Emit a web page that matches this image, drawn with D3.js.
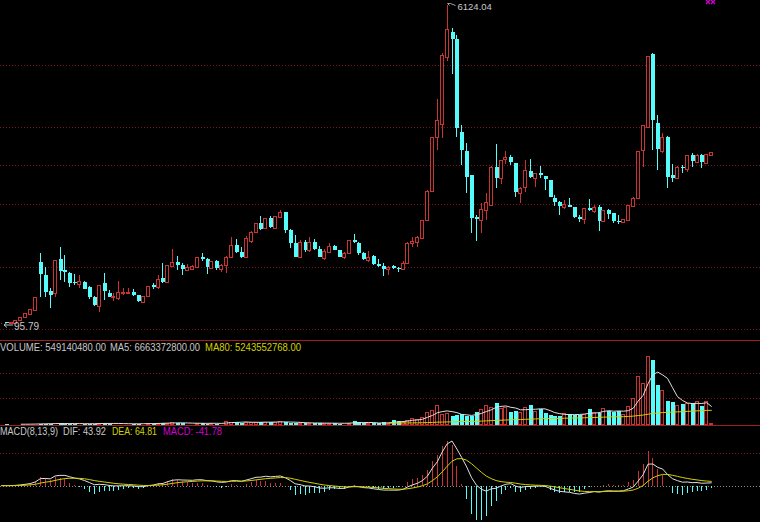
<!DOCTYPE html>
<html><head><meta charset="utf-8">
<script src="https://cdn.jsdelivr.net/npm/d3@7"></script>
<style>
html,body{margin:0;padding:0;background:#000;overflow:hidden}
svg{display:block}
text{font-family:"Liberation Sans",Arial,sans-serif}
</style></head><body>
<svg id="c" width="760" height="522"></svg>
<script>
// ---------------- data ----------------
const open = [96,116,104,112,161,215,280,360,1252,1012,709,666,1314,1106,1055,885,841,885,779,590,426,866,677,596,582,666,678,696,634,505,615,822,779,949,885,1187,1257,1200,1106,1125,1168,1346,1314,1150,1276,1119,1200,1346,1578,1452,1346,1660,1830,2000,1894,2083,1894,2113,2196,1862,1611,1346,1641,1484,1641,1503,1327,1452,1565,1478,1346,1433,1673,1622,1433,1295,1371,1219,1182,1119,1182,1138,1125,1233,1622,1629,1717,2051,2605,3614,3865,5137,5610,5466,3720,3361,2902,2113,2051,2240,2335,3047,2839,3204,3247,3123,2556,2680,2977,2839,2945,2883,2807,2472,2397,2291,2340,2291,2113,2064,2278,2227,2302,2038,2240,2177,2042,2007,2051,2316,2461,3374,3803,5183,3890,3361,3625,2902,2839,3053,3009,3280,3153,3280,3134,3280];
const high = [114,126,130,165,228,292,368,606,1422,1157,760,1300,1546,1390,1074,1030,1006,898,804,615,822,1044,728,666,898,760,760,747,640,620,810,866,1006,1244,1200,1497,1371,1233,1219,1206,1350,1422,1327,1280,1295,1214,1371,1735,1686,1535,1749,1835,1995,2127,2090,2127,2130,2240,2200,1875,1768,1673,1673,1735,1686,1560,1497,1622,1572,1484,1452,1680,1781,1641,1452,1465,1384,1308,1244,1182,1200,1157,1282,1628,1735,1749,2060,2612,3625,4338,5207,6124.04,5674,5548,3847,3506,2910,2146,2378,2561,3065,3482,3190,3355,3280,3130,2670,3185,3204,2940,3077,2890,2815,2524,2416,2429,2461,2295,2146,2284,2442,2335,2335,2245,2253,2185,2146,2070,2340,2491,3360,3850,5160,5213,4036,3690,3640,3109,3070,3090,3285,3312,3290,3298,3305,3340];
const low = [95.79,100,102,110,158,212,276,352,601,601,382,601,917,885,779,822,760,741,552,426,318,539,590,520,539,634,666,615,507,500,610,741,741,855,880,1168,1106,1012,1093,1106,1160,1282,1030,1145,1106,1074,1055,1327,1422,1327,1327,1611,1825,1862,1890,1894,1890,2102,1800,1516,1352,1327,1452,1452,1484,1346,1295,1433,1478,1350,1308,1428,1622,1390,1295,1263,1206,1168,993,1012,1125,1074,1119,1228,1535,1546,1710,2045,2600,3374,3601,5062,4810,3625,3090,2561,1800,1660,1805,2051,2330,2650,2726,3104,3090,2491,2367,2586,2839,2680,2839,2618,2480,2316,2146,2253,2291,2083,2008,1975,2227,2177,1849,2030,2064,1989,1975,2000,2045,2291,2455,3058,3790,3374,2996,3312,2650,2775,2830,2945,2958,3058,3145,3028,3125,3275];
const close = [112,104,124,161,223,288,363,601,1030,696,634,1295,1093,1074,866,855,898,747,590,445,817,715,601,609,685,690,690,634,520,615,804,779,942,885,1195,1252,1200,1125,1168,1182,1346,1308,1168,1276,1138,1200,1357,1573,1452,1346,1705,1830,1989,1881,2083,1913,2127,2196,1862,1622,1357,1641,1484,1641,1509,1357,1465,1565,1484,1357,1427,1673,1635,1433,1314,1357,1219,1182,1131,1168,1138,1119,1233,1622,1660,1724,2051,2605,3620,3941,5170,5655,5466,3784,3374,2869,2083,2070,2259,2397,3058,2850,3185,3247,3141,2586,2661,2996,2869,2934,2902,2820,2491,2397,2316,2353,2302,2102,2076,2272,2240,2302,2038,2240,2164,2038,2023,2064,2335,2461,3355,3847,5151,3941,3387,3625,2869,2839,3058,3034,3280,3166,3280,3153,3298,3330];
// volume in units of 1e8 shares
const volume = [0.1,0.1,0.2,0.3,0.4,0.6,1,2,
  3,3,2,3,4,3,2,2,2,3,2,2,5,
  4,3,2,2,2,2,2,2,3,4,3,4,5,6,7,5,4,3,3,5,4,3,4,3,3,
  12,10,8,6,8,
  7,9,8,9,7,10,11,8,6,5,6,5,5,4,4,4,5,4,3,3,6,12,7,5,4,5,4,
  7.5,6.4,15,12.4,9.8,17.3,22.6,18.9,27.5,45,53,73,
  40,41,31,35,38,32.5,31,45,58,73,
  64,79,63,66,48,50,45,66,72,50,
  58,44,35,32.5,31,44,40,35,35,38,
  58,45,43,60,50,48,50,39,69,98,
  183,155,257,241,146,129,89,85,73,75,
  79,79,89,70,89,5.4914048];
const volumeHeader = ["VOLUME: 549140480.00", "MA5: 6663372800.00", "MA80: 5243552768.00"];
const macdHeader = ["MACD(8,13,9)", "DIF: 43.92", "DEA: 64.81", "MACD: -41.78"];
const extremeLabels = ["6124.04", "95.79"];
const maPeriods = [5, 80];
const macdParams = [8, 13, 9];

// ---------------- layout / style ----------------
const C = {
  up: "#c83434", down: "#54fcfc", grid: "#7a1414", border: "#a01e1e",
  text: "#c8c8c8", yellow: "#d2d200", magenta: "#d200d2", white: "#e0e0e0", zero: "#8a8a8a"
};
const L = {
  priceTop: 4.5, priceBottom: 323.5, priceGrid: [65, 127, 165, 204, 267, 329], priceSep: 340,
  volTop: 356, volBottom: 424.3, volGrid: [372.7, 398.3], volSep: 425,
  macdTop: 441, macdBottom: 520, macdGrid: [453.3],
  xFirst: 1.7, xLast: 712.2
};

const svg = d3.select("#c");
svg.append("rect").attr("width", 760).attr("height", 522).attr("fill", "#000");

const n = close.length;
const x = d3.scaleLinear().domain([0, n - 1]).range([L.xFirst, L.xLast]);
const yP = d3.scaleLinear().domain([d3.min(low), d3.max(high)]).range([L.priceBottom, L.priceTop]);
const yV = d3.scaleLinear().domain([0, d3.max(volume)]).range([L.volBottom, L.volTop]);

function ma(arr, k) {
  return arr.map((v, i) => i < k - 1 ? null : d3.mean(arr.slice(i - k + 1, i + 1)));
}
function ema(arr, k) {
  const a = 2 / (k + 1); const out = [];
  arr.forEach((v, i) => out.push(i === 0 ? v : a * v + (1 - a) * out[i - 1]));
  return out;
}
const e1 = ema(close, macdParams[0]), e2 = ema(close, macdParams[1]);
const dif = e1.map((v, i) => v - e2[i]);
const dea = ema(dif, macdParams[2]);
const hist = dif.map((v, i) => 2 * (v - dea[i]));
const allM = dif.concat(dea, hist);
const yM = d3.scaleLinear().domain([d3.min(allM), d3.max(allM)]).range([L.macdBottom, L.macdTop]);

const px = i => Math.round(x(i));

// ---------------- grid and borders ----------------
const g0 = svg.append("g").attr("shape-rendering", "crispEdges");
L.priceGrid.concat(L.volGrid, L.macdGrid).forEach(y => {
  g0.append("line").attr("x1", 0).attr("x2", 760).attr("y1", Math.round(y) + 0.5).attr("y2", Math.round(y) + 0.5)
    .attr("stroke", C.grid).attr("stroke-dasharray", "1,2");
});
[L.priceSep, L.volSep].forEach(y => {
  g0.append("line").attr("x1", 0).attr("x2", 760).attr("y1", y + 0.5).attr("y2", y + 0.5).attr("stroke", C.border);
});
g0.append("line").attr("x1", 0).attr("x2", 760).attr("y1", Math.round(yM(0)) + 0.5).attr("y2", Math.round(yM(0)) + 0.5)
  .attr("stroke", C.zero).attr("stroke-dasharray", "1,2");

// ---------------- candles ----------------
const gc = svg.append("g").attr("shape-rendering", "crispEdges");
d3.range(n).forEach(i => {
  const cx = px(i), up = close[i] >= open[i];
  const yo = yP(open[i]), yc = yP(close[i]), yh = yP(high[i]), yl = yP(low[i]);
  const top = Math.min(yo, yc), bot = Math.max(yo, yc);
  const col = up ? C.up : C.down;
  if (up) {
    gc.append("line").attr("x1", cx - 0.5).attr("x2", cx - 0.5).attr("y1", yh).attr("y2", top).attr("stroke", col);
    gc.append("line").attr("x1", cx - 0.5).attr("x2", cx - 0.5).attr("y1", bot).attr("y2", yl).attr("stroke", col);
    gc.append("rect").attr("x", cx - 2.5).attr("y", Math.round(top) + 0.5).attr("width", 3)
      .attr("height", Math.max(0, Math.round(bot) - Math.round(top))).attr("fill", "#000").attr("stroke", col);
  } else {
    gc.append("line").attr("x1", cx - 0.5).attr("x2", cx - 0.5).attr("y1", yh).attr("y2", yl).attr("stroke", col);
    gc.append("rect").attr("x", cx - 2.5).attr("y", Math.round(top)).attr("width", 4)
      .attr("height", Math.max(1, Math.round(bot) - Math.round(top))).attr("fill", col);
  }
});

// extreme labels
const iMax = d3.maxIndex(high), iMin = d3.minIndex(low);
const hx = px(iMax) - 0.5, hy = yP(high[iMax]);
svg.append("path").attr("d", `M${hx},${hy - 1}L${hx + 3},${hy - 1}M${hx},${hy - 1}L${hx + 2},${hy + 1}M${hx + 3},${hy - 1}L${hx + 8},${hy + 1}`)
  .attr("stroke", C.text).attr("fill", "none").attr("stroke-width", 0.8);
svg.append("text").attr("x", hx + 10).attr("y", hy + 5.5).attr("font-size", 9.5).attr("fill", C.text).text(extremeLabels[0]);
const lx = px(iMin) + 1, ly = yP(low[iMin]) + 1.5;
svg.append("path").attr("d", `M${lx + 1},${ly}L${lx + 10},${ly}M${lx + 1},${ly}L${lx + 4},${ly - 2.5}M${lx + 1},${ly}L${lx + 4},${ly + 2.5}`)
  .attr("stroke", C.text).attr("fill", "none").attr("stroke-width", 0.9);
svg.append("text").attr("x", lx + 11).attr("y", ly + 4.5).attr("font-size", 10).attr("fill", C.text).text(extremeLabels[1]);

// magenta markers top right
[706, 711].forEach(mx => {
  svg.append("path").attr("d", `M${mx},0L${mx + 4},4M${mx + 4},0L${mx},4`).attr("stroke", C.magenta).attr("stroke-width", 1.3);
});

// ---------------- volume ----------------
const gv = svg.append("g").attr("shape-rendering", "crispEdges");
d3.range(n).forEach(i => {
  const cx = px(i), up = close[i] >= open[i];
  const yt = Math.round(yV(volume[i])), yb = Math.round(L.volBottom);
  if (up) {
    gv.append("rect").attr("x", cx - 2.5).attr("y", yt + 0.5).attr("width", 3).attr("height", Math.max(0, yb - yt))
      .attr("fill", "#000").attr("stroke", C.up);
  } else {
    gv.append("rect").attr("x", cx - 2.5).attr("y", yt).attr("width", 4).attr("height", Math.max(1, yb - yt + 1)).attr("fill", C.down);
  }
});
const ma5 = ma(volume, maPeriods[0]), ma80 = ma(volume, maPeriods[1]);
const vline = d3.line().defined(d => d[1] != null).x(d => x(d[0]) - 0.5).y(d => yV(d[1]));
svg.append("path").attr("d", vline(ma5.map((v, i) => [i, v]))).attr("fill", "none").attr("stroke", C.white).attr("stroke-width", 1);
svg.append("path").attr("d", vline(ma80.map((v, i) => [i, v]))).attr("fill", "none").attr("stroke", C.yellow).attr("stroke-width", 1);

// ---------------- MACD ----------------
const gm = svg.append("g").attr("shape-rendering", "crispEdges");
d3.range(n).forEach(i => {
  const cx = px(i) - 0.5;
  gm.append("line").attr("x1", cx).attr("x2", cx).attr("y1", yM(0)).attr("y2", yM(hist[i]))
    .attr("stroke", hist[i] >= 0 ? C.up : C.down);
});
const mline = d3.line().x((d, i) => x(i) - 0.5).y(d => yM(d));
svg.append("path").attr("d", mline(dif)).attr("fill", "none").attr("stroke", C.white).attr("stroke-width", 1);
svg.append("path").attr("d", mline(dea)).attr("fill", "none").attr("stroke", C.yellow).attr("stroke-width", 1);

// ---------------- headers ----------------
function hdr(y, parts, xs, ws, cols) {
  parts.forEach((t, k) => {
    svg.append("text").attr("x", xs[k]).attr("y", y).attr("font-size", 10.5).attr("fill", cols[k])
      .attr("textLength", ws[k]).attr("lengthAdjust", "spacingAndGlyphs").text(t);
  });
}
hdr(351, volumeHeader, [0, 110, 205], [106, 90, 96], [C.text, C.text, C.yellow]);
hdr(435, macdHeader, [0, 63, 112, 163], [58, 43, 45, 59], [C.text, C.text, C.yellow, C.magenta]);
</script>
</body></html>
